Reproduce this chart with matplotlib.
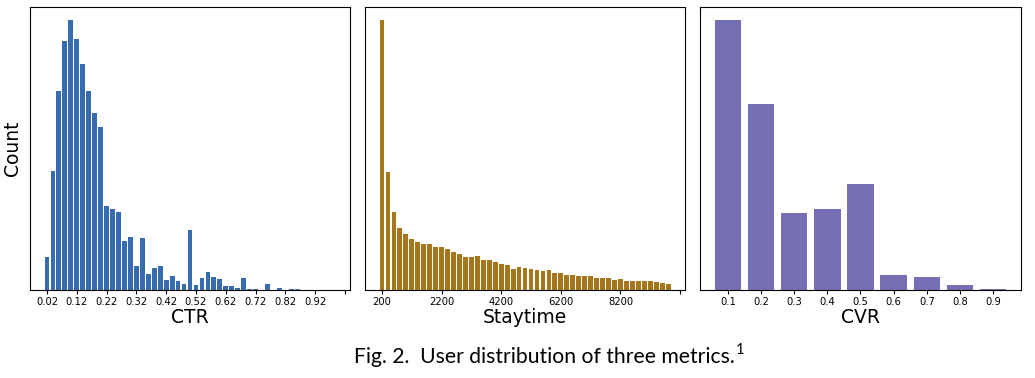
#user distribution of three metrics: CTR, Staytime, CVR
import numpy as np
import matplotlib.pyplot as plt

#CTR histogram (bin width 0.02):
ctr_bins = np.round(np.arange(0.02, 0.99, 0.02), 2)
ctr_count = [99, 357, 597, 747, 810, 753, 678, 597, 531, 489,
             252, 243, 234, 147, 159, 72, 156, 48, 66, 72,
             30, 42, 27, 18, 180, 15, 36, 54, 39, 33,
             12, 12, 6, 36, 3, 3, 0, 18, 0, 6,
             0, 3, 3, 1, 0, 0, 0, 0, 1]

#Staytime histogram (bin width 200):
stay_bins = np.arange(200, 9801, 200)
stay_count = [810, 354, 234, 186, 168, 153, 144, 138, 138, 129,
              129, 123, 114, 108, 99, 99, 102, 90, 90, 84,
              78, 75, 63, 69, 66, 63, 60, 57, 60, 51,
              51, 45, 45, 42, 42, 42, 36, 36, 36, 30,
              33, 27, 27, 27, 27, 27, 24, 21, 18]

#CVR counts:
cvr_labels = ["0.1", "0.2", "0.3", "0.4", "0.5", "0.6", "0.7", "0.8", "0.9"]
cvr_count = [810, 558, 231, 243, 318, 45, 39, 15, 3]

fig = plt.figure(figsize=(10.35, 3.78), dpi=100)
ax1 = fig.add_axes([0.0290, 0.2328, 0.3092, 0.7487])
ax2 = fig.add_axes([0.3527, 0.2328, 0.3092, 0.7487])
ax3 = fig.add_axes([0.6763, 0.2328, 0.3102, 0.7487])

#1. CTR:
ax1.bar(ctr_bins, ctr_count, width=0.016, color="#386cb0")
ctr_ticks = np.arange(0.02, 1.03, 0.1)
ax1.set_xticks(ctr_ticks)
ax1.set_xticklabels(["%.2f" % t for t in ctr_ticks[:-1]] + [""])
ax1.set_xlabel("CTR", fontsize=13.5, labelpad=1)

#2. Staytime:
ax2.bar(stay_bins, stay_count, width=160, color="#a6761d")
stay_ticks = np.arange(200, 10201, 2000)
ax2.set_xticks(stay_ticks)
ax2.set_xticklabels([str(t) for t in stay_ticks[:-1]] + [""])
ax2.set_xlabel("Staytime", fontsize=13.5, labelpad=1)

#3. CVR:
ax3.bar(cvr_labels, cvr_count, width=0.8, color="#7570b3")
ax3.set_xlabel("CVR", fontsize=13.5, labelpad=1)

for ax in (ax1, ax2, ax3):
    ax.set_yticks([])
    ax.margins(y=0.05)
    ax.set_ylim(bottom=0)
    ax.tick_params(axis="x", labelsize=7.2, length=3, width=0.8, pad=2)

fig.text(0.012, 0.607, "Count", rotation=90, fontsize=13.5, ha="center", va="center")
fig.text(0.342, 0.055, "Fig. 2.  User distribution of three metrics.",
         fontsize=15.2, family="Lato", ha="left", va="center")
#footnote mark, raised like a superscript
fig.text(0.7105, 0.074, "1", fontsize=10.5, family="Lato", ha="left", va="center")

plt.savefig("out.png", dpi=100)
